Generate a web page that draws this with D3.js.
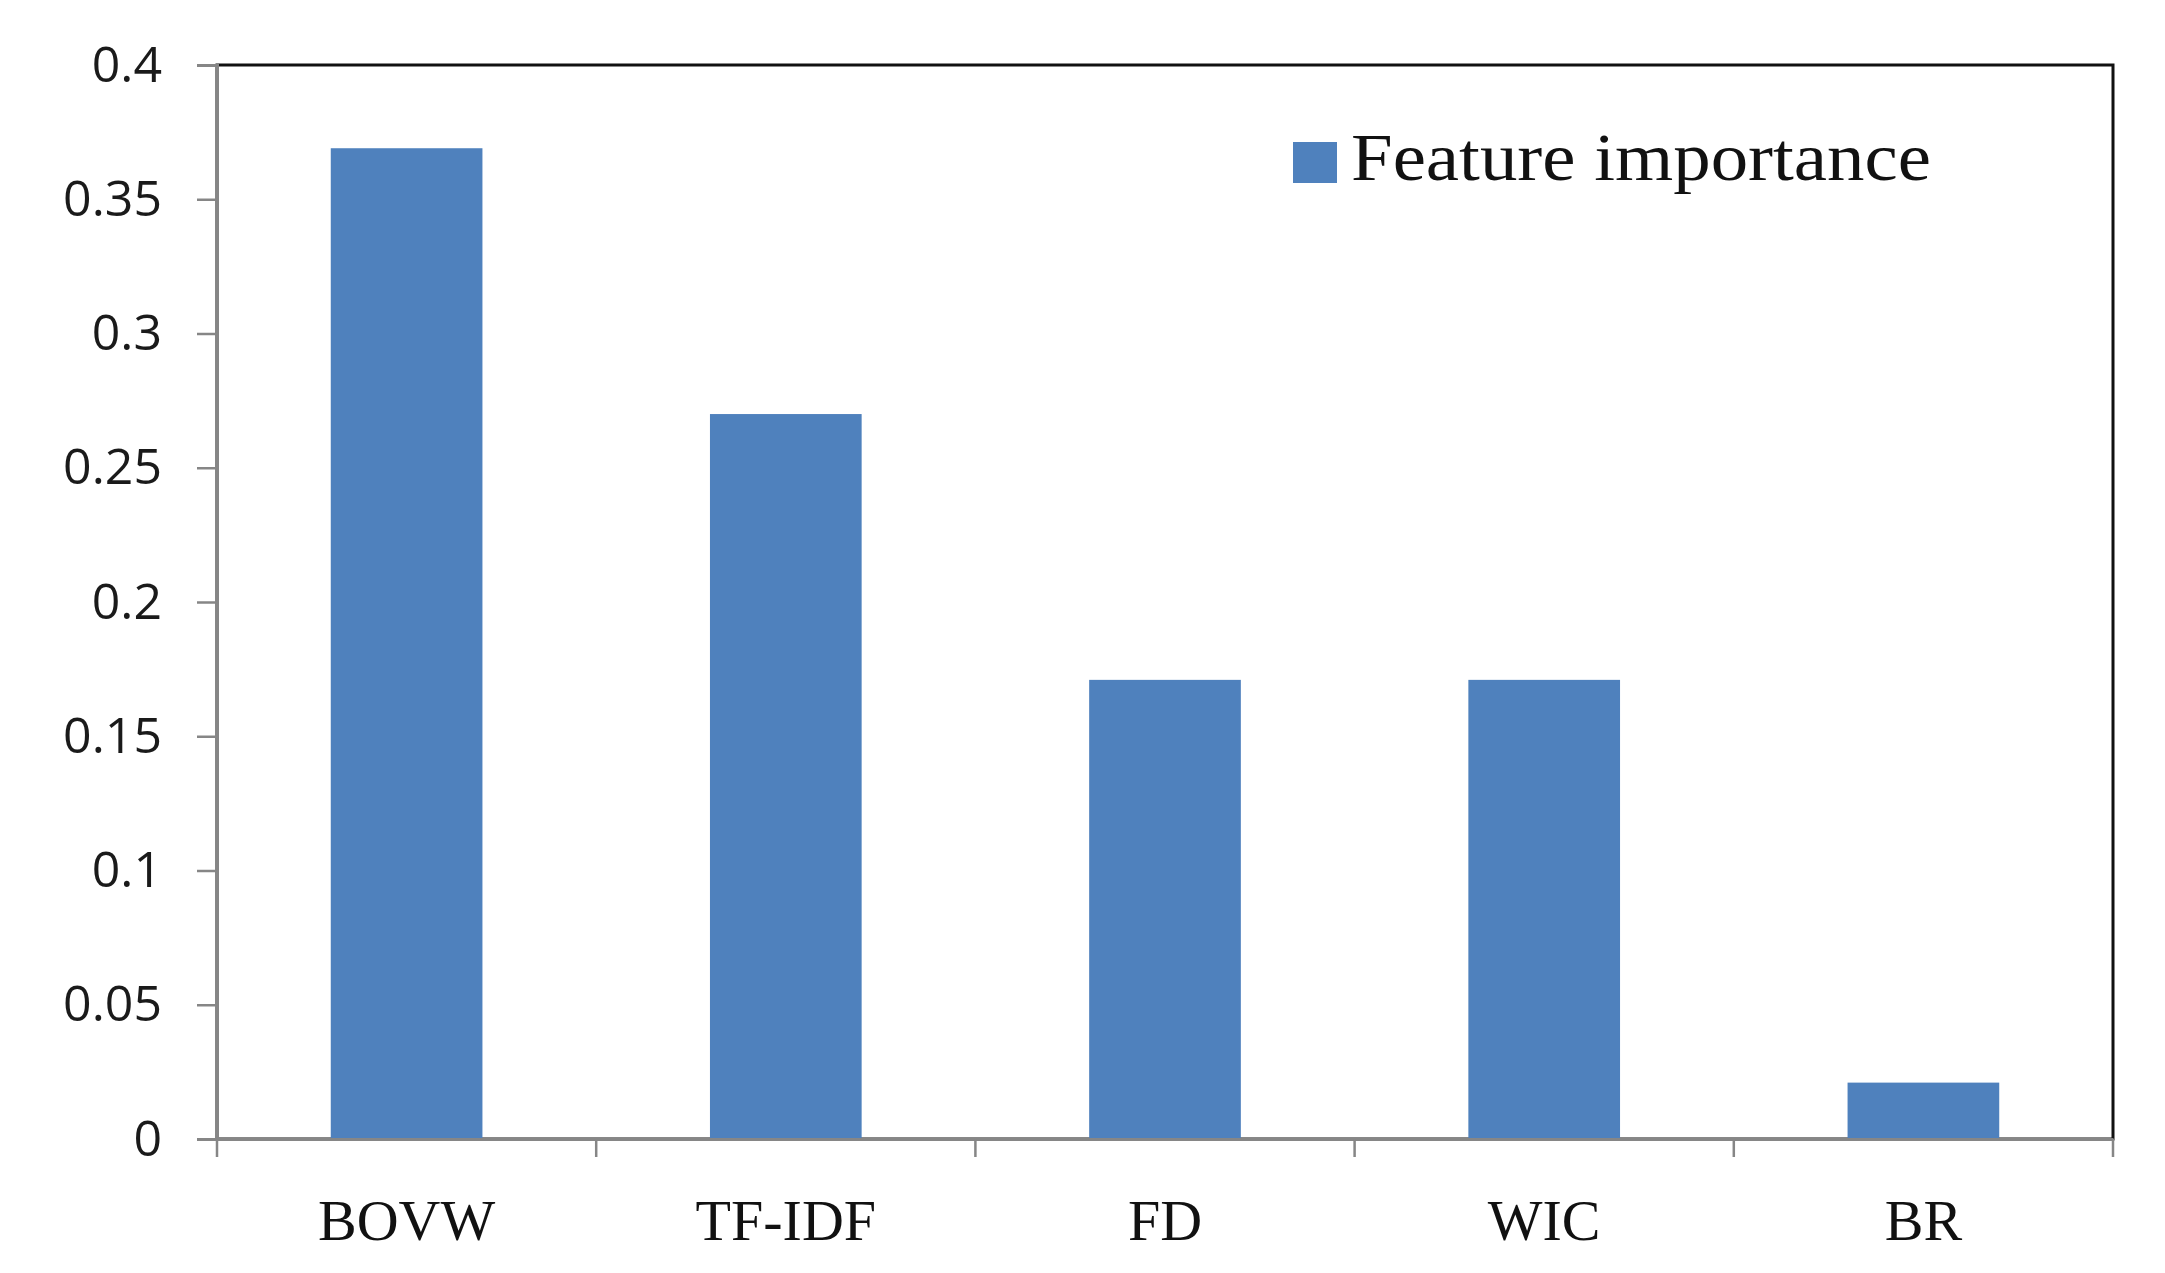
<!DOCTYPE html>
<html>
<head>
<meta charset="utf-8">
<script src="https://cdn.jsdelivr.net/npm/d3@7"></script>
<style>
  body { margin: 0; background: #fff; }
</style>
</head>
<body>
<div id="my_dataviz"></div>
<script>
  // chart data
  const categories = ["BOVW", "TF-IDF", "FD", "WIC", "BR"];
  const importance = [0.369, 0.27, 0.171, 0.171, 0.021];
  const yTicks = [0, 0.05, 0.1, 0.15, 0.2, 0.25, 0.3, 0.35, 0.4];
  const seriesName = "Feature importance";

  // set the dimensions and margins of the graph
  const margin = {top: 65, right: 52, bottom: 134, left: 217},
      width = 2165 - margin.left - margin.right,
      height = 1273 - margin.top - margin.bottom;

  const svg = d3.select("#my_dataviz")
    .append("svg")
      .attr("width", width + margin.left + margin.right)
      .attr("height", height + margin.top + margin.bottom)
    .append("g")
      .attr("transform", `translate(${margin.left},${margin.top})`);

  // scales
  const x = d3.scaleBand()
    .domain(categories)
    .range([0, width])
    .padding(0);
  const barW = x.bandwidth() * 0.4;

  const y = d3.scaleLinear()
    .domain([0, 0.4])
    .range([height, 0]);

  // plot area border (top and right show black)
  svg.append("rect")
    .attr("x", 0)
    .attr("y", 0)
    .attr("width", width)
    .attr("height", height)
    .attr("fill", "none")
    .attr("stroke", "#111")
    .attr("stroke-width", 3);

  // bars
  svg.selectAll("rect.bar")
    .data(importance)
    .enter().append("rect")
      .attr("class", "bar")
      .attr("x", (d, i) => x(categories[i]) + (x.bandwidth() - barW) / 2)
      .attr("y", d => y(d))
      .attr("width", barW)
      .attr("height", d => height - y(d))
      .attr("fill", "#4F81BD");

  // Y axis
  const yAxis = svg.append("g")
    .call(d3.axisLeft(y)
      .tickValues(yTicks)
      .tickSize(20)
      .tickPadding(35)
      .tickFormat(d => d === 0 ? "0" : String(+d.toFixed(2))));
  yAxis.select(".domain").attr("stroke", "#868686").attr("stroke-width", 3);
  yAxis.selectAll(".tick line").attr("stroke", "#868686").attr("stroke-width", 2.5);
  yAxis.selectAll(".tick text")
    .attr("fill", "#1a1a1a")
    .style("font-family", "'Open Sans', sans-serif")
    .style("font-size", "50px");

  // X axis: ticks between categories
  const xAxis = svg.append("g")
    .attr("transform", `translate(0, ${height})`)
    .call(d3.axisBottom(x).tickSize(0).tickFormat(""));
  xAxis.select(".domain").attr("stroke", "#868686").attr("stroke-width", 3);

  const bounds = categories.map(c => x(c)).concat([width]);
  svg.append("g").selectAll("line")
    .data(bounds)
    .enter().append("line")
      .attr("x1", d => d)
      .attr("x2", d => d)
      .attr("y1", height)
      .attr("y2", height + 18)
      .attr("stroke", "#868686")
      .attr("stroke-width", 2.5);

  svg.append("g").selectAll("text")
    .data(categories)
    .enter().append("text")
      .attr("x", d => x(d) + x.bandwidth() / 2)
      .attr("y", height + 101)
      .attr("text-anchor", "middle")
      .attr("fill", "#111")
      .style("font-family", "'Liberation Serif', serif")
      .style("font-size", "58px")
      .text(d => d);

  // legend
  const legend = svg.append("g")
    .attr("transform", `translate(${1293 - margin.left}, ${142 - margin.top})`);
  legend.append("rect")
    .attr("width", 44)
    .attr("height", 41)
    .attr("fill", "#4F81BD");
  legend.append("text")
    .attr("x", 58)
    .attr("y", 38)
    .attr("fill", "#111")
    .attr("textLength", 580)
    .attr("lengthAdjust", "spacingAndGlyphs")
    .style("font-family", "'Liberation Serif', serif")
    .style("font-size", "68px")
    .text(seriesName);
</script>
</body>
</html>
